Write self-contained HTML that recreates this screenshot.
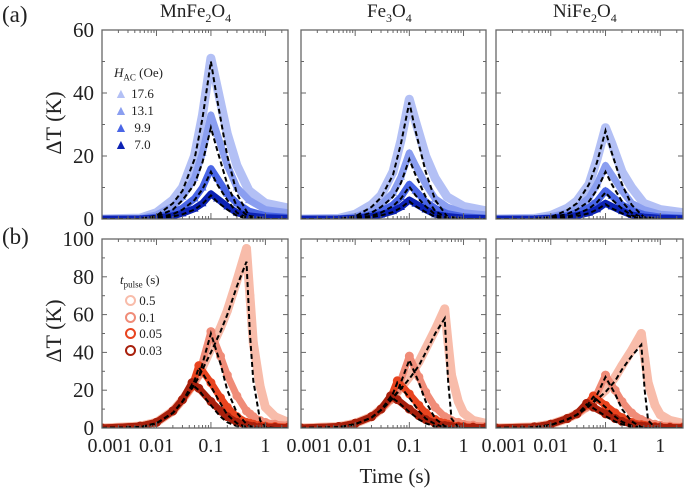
<!DOCTYPE html>
<html><head><meta charset="utf-8">
<style>
html,body{margin:0;padding:0;background:#fff;}
svg{display:block;font-family:"Liberation Serif",serif;}
</style></head>
<body>
<svg id="chart" width="685" height="497" viewBox="0 0 685 497" xmlns="http://www.w3.org/2000/svg"></svg>
<script>
// ---- data ----
const panelTitles = ["MnFe", "Fe", "NiFe"];
const topTimes = [0.001,0.005,0.01,0.02,0.03,0.05,0.07,0.1,0.13,0.2,0.3,0.5,1,2.6];
const topLabels = ["17.6","13.1","9.9","7.0"];
const topColors = ["#b3c0f5","#8a9ef0","#4a66e6","#0c22b4"];
const topData = [
 [ // MnFe2O4
  [0,0.3,2,6,10,20,33,51,42,27,17,9,5,3.5],
  [0,0.2,1.3,4,7,13,21,33,27,17,10,6,3,2],
  [0,0,0.6,2,3.5,6.5,10,16,13,8,5,2.5,1,0.5],
  [0,0,0.3,1,1.8,3.3,5,8,6.5,4,2,1,0.4,0.2]
 ],
 [ // Fe3O4
  [0,0.2,1.5,4.5,7.5,15,25,38,31,20,13,7,4,2.6],
  [0,0.1,0.8,2.6,4.5,8.3,13.4,21,17,11,6.4,3.8,2,1.3],
  [0,0,0.4,1.4,2.4,4.5,7,11,9,5.5,3.4,1.7,0.7,0.3],
  [0,0,0.2,0.8,1.4,2.5,3.8,6,4.9,3,1.5,0.8,0.3,0.15]
 ],
 [ // NiFe2O4
  [0,0.2,1.1,3.4,5.7,11,19,29,24,15,10,5,3,2],
  [0,0.1,0.7,2,3.6,6.7,11,17,14,9,5,3,1.5,1],
  [0,0,0.3,1.1,2,3.7,5.6,9,7.3,4.5,2.8,1.4,0.6,0.3],
  [0,0,0.2,0.6,1.1,2,3.1,5,4,2.5,1.3,0.6,0.25,0.1]
 ]
];
const topFits = [
 [
  [0,0,1,5,9,19,32,50,38,20,8,1,0,0],
  [0,0,0.8,3,6,11,18,29,22,11,4,0.5,0,0],
  [0,0,0.4,1.5,3,6,9.5,15,11,6,2,0,0,0],
  [0,0,0.2,0.8,1.5,3,4.8,7.5,5.5,3,1,0,0,0]
 ],
 [
  [0,0,0.8,3.8,6.8,14,24,37,28,15,6,0.8,0,0],
  [0,0,0.5,2,3.8,7,11.5,19,14,7,2.5,0.3,0,0],
  [0,0,0.3,1,2,4.1,6.5,10.3,7.5,4,1.4,0,0,0],
  [0,0,0.15,0.6,1.1,2.2,3.6,5.6,4.1,2.2,0.7,0,0,0]
 ],
 [
  [0,0,0.6,2.8,5,11,18,28,21,11,4.5,0.6,0,0],
  [0,0,0.4,1.6,3,5.6,9.3,15,11,5.6,2,0.2,0,0],
  [0,0,0.2,0.8,1.6,3.3,5.3,8.4,6.2,3.3,1.1,0,0,0],
  [0,0,0.1,0.5,0.9,1.8,3,4.7,3.4,1.8,0.6,0,0,0]
 ]
];
const botTimes = [0.001,0.005,0.01,0.02,0.03,0.045,0.06,0.1,0.15,0.2,0.3,0.45,0.52,0.6,0.8,1,1.5,2.6];
const botLabels = ["0.5","0.1","0.05","0.03"];
const botColors = ["#f8bcaa","#f08c78","#e8441f","#a8200c"];
const botData = [
 [
  [0,1,3,9,15,22,28,42,53,62,78,95,70,45,22,11,6,3],
  [0,1,3,9,15,22,28,51,38,28,17,9,7.5,6,4,3,2,1.5],
  [0,1,3,9,15,22,33,24,16,11,6,3,2.5,2,1.5,1,0.8,0.5],
  [0,1,3,9,15,24,21,14,9,6,3,1.5,1,0.8,0.5,0.4,0.3,0.2]
 ],
 [
  [0,0.8,2.5,6,10,15,19,27,35,42,52,63,45,28,14,8,4,2.5],
  [0,0.8,2.5,6,10,15,20,38,27,19,11,6,5,4,3,2,1.5,1],
  [0,0.8,2.5,6,10,16,25,18,12,8,4.5,2.5,2,1.5,1,0.8,0.5,0.4],
  [0,0.8,2.5,6,10,17,15,10,6.5,4.5,2.5,1.3,1,0.8,0.6,0.4,0.3,0.2]
 ],
 [
  [0,0.6,2,5,7.5,11,14,20,27,33,41,50,37,24,12,7,4,2.5],
  [0,0.6,2,5,7.5,11,14,28,20,14,8,4.5,3.5,3,2,1.5,1,0.8],
  [0,0.6,2,5,7.5,12,17,12,8,5.5,3,1.8,1.4,1.1,0.8,0.6,0.4,0.3],
  [0,0.6,2,5,7.5,13,11,7.5,5,3.5,2,1,0.8,0.6,0.4,0.3,0.2,0.1]
 ]
];
const botFits = [
 [
  [0,0.5,2.5,8,14,21,27,40,51,60,75,88,50,25,4,0.5,0,0],
  [0,0.5,2.5,8,14,21,27,50,34,20,8,2,1,0.5,0,0,0,0],
  [0,0.5,2.5,8,14,21,32,22,13,7,2.5,0.5,0,0,0,0,0,0],
  [0,0.5,2.5,8,14,23,20,12,6,3,1,0,0,0,0,0,0,0]
 ],
 [
  [0,0.4,2,5.5,9.5,14.5,18.5,26,33,40,50,58,25,5,0.5,0,0,0],
  [0,0.4,2,5.5,9.5,14.5,19,36,24,14,5,1,0.5,0,0,0,0,0],
  [0,0.4,2,5.5,9.5,15,24,16,9,5,2,0.3,0,0,0,0,0,0],
  [0,0.4,2,5.5,9.5,16.5,14,8.5,4.5,2.5,0.8,0,0,0,0,0,0,0]
 ],
 [
  [0,0.3,1.6,4.5,7,10.5,13.5,19,25,31,38,44,20,4,0.3,0,0,0],
  [0,0.3,1.6,4.5,7,10.5,13.5,27,18,10,3.5,0.5,0,0,0,0,0,0],
  [0,0.3,1.6,4.5,7,11.5,16.5,11,6,3.3,1.2,0.2,0,0,0,0,0,0],
  [0,0.3,1.6,4.5,7,12.5,10.5,6.3,3.4,2,0.6,0,0,0,0,0,0,0]
 ]
];
const xTickVals = [0.001,0.01,0.1,1];
const xTickLabels = ["0.001","0.01","0.1","1"];
const topYTicks = [0,20,40,60];
const botYTicks = [0,20,40,60,80,100];

// ---- layout ----
const NS = "http://www.w3.org/2000/svg";
const svg = document.getElementById("chart");
const panelsX = [[102,288],[301,486],[496,683]];
const rows = [{top:30,bot:219,ymax:60},{top:239,bot:428,ymax:100}];
const XMIN = 0.001, XMAX = 2.6;
function mk(tag, attrs, parent){
  const e = document.createElementNS(NS, tag);
  for (const k in attrs) e.setAttribute(k, attrs[k]);
  (parent||svg).appendChild(e);
  return e;
}
function xs(p, t){ const [l,r]=panelsX[p]; return l + (Math.log10(t)-Math.log10(XMIN))/(Math.log10(XMAX)-Math.log10(XMIN))*(r-l); }
function ys(row, v){ const R=rows[row]; return R.bot - v/R.ymax*(R.bot-R.top); }

function drawPanel(row, p){
  const [l,r] = panelsX[p]; const R = rows[row];
  const g = mk("g", {});
  
  
  const times = row===0 ? topTimes : botTimes;
  const data = row===0 ? topData[p] : botData[p];
  const fits = row===0 ? topFits[p] : botFits[p];
  const colors = row===0 ? topColors : botColors;
  const clip = mk("clipPath", {id:"c"+row+p}, g);
  mk("rect", {x:l,y:R.top,width:r-l,height:R.bot-R.top}, clip);
  const plot = mk("g", {"clip-path":"url(#c"+row+p+")"}, g);
  for (let s=0; s<data.length; s++){
    const pts = times.map((t,i)=>xs(p,t).toFixed(1)+","+ys(row,data[s][i]).toFixed(1)).join(" ");
    const band = mk("polyline", {points:pts, fill:"none", stroke:colors[s], "stroke-width": s===0?9:7, "stroke-linejoin":"round", "stroke-linecap":"round"}, plot);
    
    
    times.forEach((t,i)=>{
      const cx = xs(p,t), cy = ys(row,data[s][i]);
      if (row===0){
        const m = mk("polygon", {points:`${cx-4},${cy+3} ${cx+4},${cy+3} ${cx},${cy-4}`, fill:colors[s]}, plot);
        
        
      } else {
        const m = mk("circle", {cx:cx, cy:cy, r:3.5, fill:"none", stroke:colors[s], "stroke-width":2}, plot);
        
        
      }
    });
  }
  for (let s=0; s<fits.length; s++){
    const pts = times.map((t,i)=>xs(p,t).toFixed(1)+","+ys(row,fits[s][i]).toFixed(1)).join(" ");
    const f = mk("polyline", {points:pts, fill:"none", stroke:"#000", "stroke-width":2, "stroke-dasharray":"5,3"}, plot);
    
    
  }
  // frame
  const fr = mk("rect", {x:l, y:R.top, width:r-l, height:R.bot-R.top, fill:"none", stroke:"#666", "stroke-width":1.3}, g);
  
  
  // x ticks
  for (let d=-3; d<=0; d++){
    for (let m=1; m<=9; m++){
      const t = m*Math.pow(10,d);
      if (t>XMAX) continue;
      const x = xs(p,t), len = m===1?6:3;
      mk("line",{x1:x,x2:x,y1:R.bot,y2:R.bot-len,stroke:"#666","stroke-width":1},g);
      mk("line",{x1:x,x2:x,y1:R.top,y2:R.top+len,stroke:"#666","stroke-width":1},g);
    }
  }
  // y ticks every 10
  for (let v=0; v<=R.ymax; v+=10){
    const y = ys(row,v), len = v%20===0?5:3;
    mk("line",{x1:l,x2:l+len,y1:y,y2:y,stroke:"#666","stroke-width":1},g);
    mk("line",{x1:r,x2:r-len,y1:y,y2:y,stroke:"#666","stroke-width":1},g);
  }
}
for (let row=0; row<2; row++) for (let p=0; p<3; p++) drawPanel(row,p);

// y tick labels
topYTicks.forEach(v=>{
  const t = mk("text",{x:94,y:ys(0,v)+7,"text-anchor":"end","font-size":21,fill:"#222"});
  t.textContent = v;
  
  
});
botYTicks.forEach(v=>{
  const t = mk("text",{x:94,y:ys(1,v)+7,"text-anchor":"end","font-size":21,fill:"#222"});
  t.textContent = v;
  
  
});
// x tick labels
for (let p=0; p<3; p++){
  xTickVals.forEach((v,i)=>{
    let x = xs(p,v);
    if (i===0) x += 8;
    const t = mk("text",{x:x,y:452,"text-anchor":"middle","font-size":20,fill:"#222"});
    t.textContent = xTickLabels[i];
    
    
  });
}
</script>
<svg width="0" height="0" style="position:absolute"></svg>
<div style="position:absolute;left:0;top:0;width:685px;height:497px;pointer-events:none;font-family:'Liberation Serif',serif;color:#222;">
  <div style="position:absolute;left:2px;top:2px;font-size:23px;">(a)</div>
  <div style="position:absolute;left:2px;top:224px;font-size:23px;">(b)</div>
  <div style="position:absolute;left:160px;top:1px;font-size:19px;">MnFe<sub style="font-size:12px">2</sub>O<sub style="font-size:12px">4</sub></div>
  <div style="position:absolute;left:367px;top:1px;font-size:19px;">Fe<sub style="font-size:12px">3</sub>O<sub style="font-size:12px">4</sub></div>
  <div style="position:absolute;left:553px;top:1px;font-size:19px;">NiFe<sub style="font-size:12px">2</sub>O<sub style="font-size:12px">4</sub></div>
  <div style="position:absolute;left:14px;top:110px;width:80px;height:26px;font-size:22px;transform:rotate(-90deg);text-align:center;">ΔT (K)</div>
  <div style="position:absolute;left:14px;top:318px;width:80px;height:26px;font-size:22px;transform:rotate(-90deg);text-align:center;">ΔT (K)</div>
  <div style="position:absolute;left:340px;top:464px;width:110px;text-align:center;font-size:21px;">Time (s)</div>
  <div style="position:absolute;left:114px;top:65px;font-size:13px;">
    <div><i>H</i><sub style="font-size:9px">AC</sub> (Oe)</div>
    <div style="margin-top:3px;"><span style="color:#b3c0f5;font-size:14px;">▲</span> 17.6</div>
    <div><span style="color:#8a9ef0;font-size:14px;">▲</span> 13.1</div>
    <div><span style="color:#4a66e6;font-size:14px;">▲</span> &nbsp;9.9</div>
    <div><span style="color:#0c22b4;font-size:14px;">▲</span> &nbsp;7.0</div>
  </div>
  <div style="position:absolute;left:120px;top:272px;font-size:13px;line-height:16.5px;">
    <div><i>t</i><sub style="font-size:9px">pulse</sub> (s)</div>
    <div style="margin-left:5px;"><span style="display:inline-block;width:7px;height:7px;border:2.5px solid #f8bcaa;border-radius:50%;vertical-align:-1px;"></span> 0.5</div>
    <div style="margin-left:5px;"><span style="display:inline-block;width:7px;height:7px;border:2.5px solid #f08c78;border-radius:50%;vertical-align:-1px;"></span> 0.1</div>
    <div style="margin-left:5px;"><span style="display:inline-block;width:7px;height:7px;border:2.5px solid #e8441f;border-radius:50%;vertical-align:-1px;"></span> 0.05</div>
    <div style="margin-left:5px;"><span style="display:inline-block;width:7px;height:7px;border:2.5px solid #a8200c;border-radius:50%;vertical-align:-1px;"></span> 0.03</div>
  </div>
</div>
</body></html>
